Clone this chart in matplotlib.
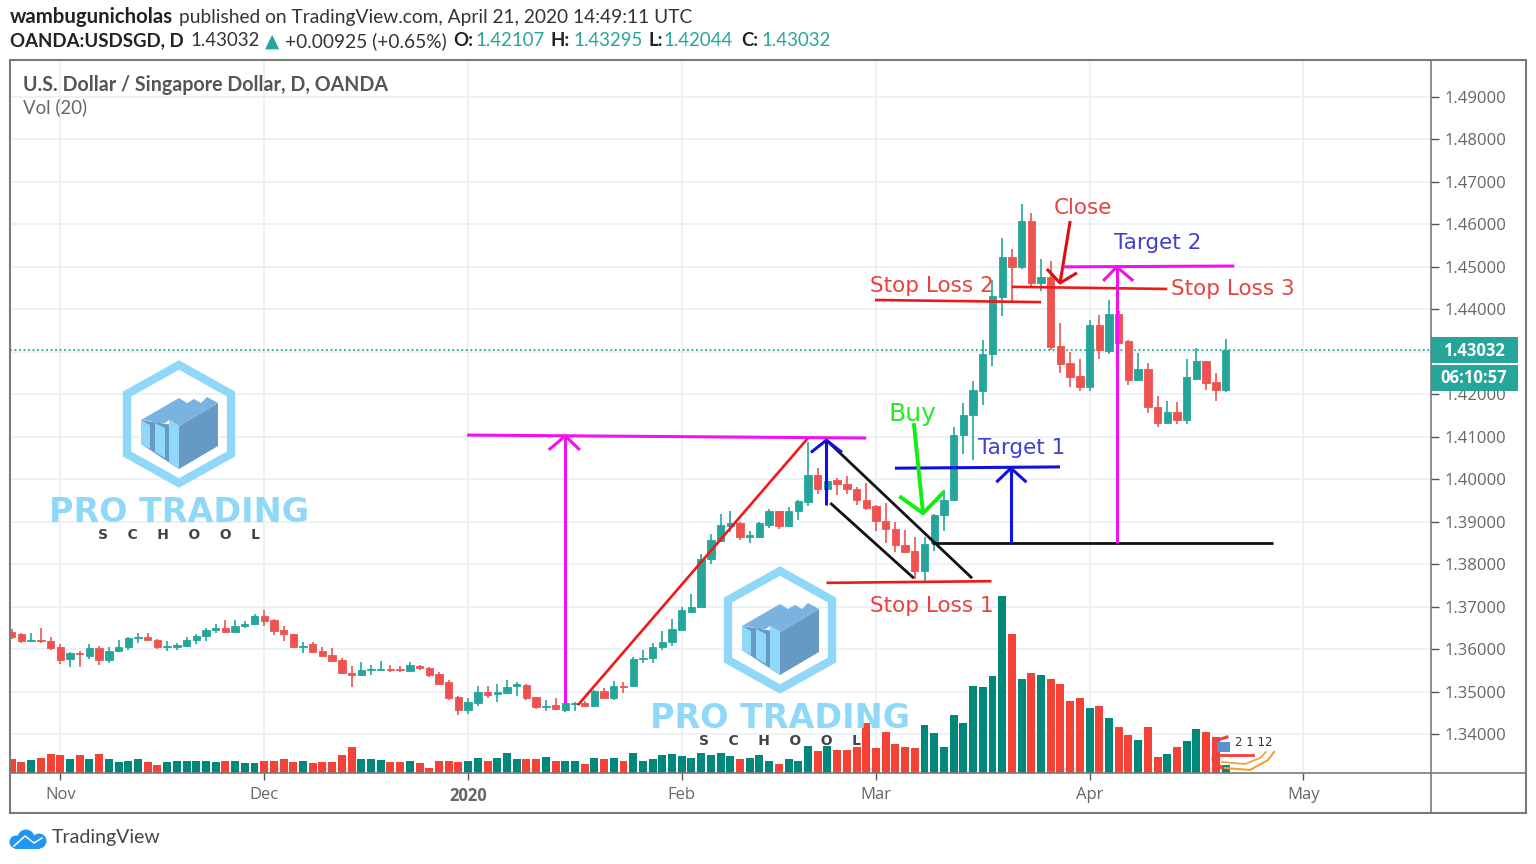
import numpy as np
import matplotlib
matplotlib.use("Agg")
import matplotlib.pyplot as plt
from matplotlib.patches import Polygon, Rectangle, Circle

W, H = 1536, 864
UP = "#26a69a"
DOWN = "#ef5350"
VOL_UP = "#00897b"
VOL_DOWN = "#f44336"
GRID = "#e9eff5"
FRAME = "#7a7a7a"
LOGO = "#8fd8f8"

# daily bars, bar 0 is the first of November 2019
bars = np.arange(-5, 121)
opens = [1.3641, 1.3636, 1.3620, 1.3622, 1.3620,
         1.3606, 1.3576, 1.3592, 1.3584, 1.3602, 1.3574, 1.3596, 1.3604, 1.3625, 1.3629,
         1.3621, 1.3605, 1.3604, 1.3607, 1.3621, 1.3631, 1.3645, 1.3649, 1.3641, 1.3654,
         1.3658, 1.3678, 1.3669, 1.3645, 1.3636, 1.3604, 1.3611, 1.3596, 1.3586, 1.3574,
         1.3543, 1.3538, 1.3550, 1.3550, 1.3554, 1.3554, 1.3548, 1.3560, 1.3556, 1.3541,
         1.3522, 1.3488, 1.3457, 1.3472, 1.3499, 1.3494, 1.3497, 1.3513, 1.3515, 1.3488,
         1.3464, 1.3468, 1.3456, 1.3470, 1.3474, 1.3466, 1.3501, 1.3486, 1.3513, 1.3513,
         1.3576, 1.3578, 1.3604, 1.3617, 1.3646, 1.3688, 1.3700, 1.3813, 1.3855, 1.3891,
         1.3896, 1.3865, 1.3865, 1.3893, 1.3925, 1.3890, 1.3925, 1.3947, 1.4010, 1.3977,
         1.3998, 1.3988, 1.3978, 1.3951, 1.3937, 1.3902, 1.3883, 1.3846, 1.3831, 1.3784,
         1.3849, 1.3915, 1.3951, 1.4103, 1.4151, 1.4208, 1.4294, 1.4430, 1.4524, 1.4499,
         1.4609, 1.4463, 1.4477, 1.4314, 1.4273, 1.4243, 1.4218, 1.4363, 1.4302, 1.4389,
         1.4325, 1.4233, 1.4259, 1.4171, 1.4133, 1.4159, 1.4139, 1.4237, 1.4279, 1.4229,
         1.42107]
closes = [1.3629, 1.3620, 1.3621, 1.3618, 1.3603,
          1.3574, 1.3590, 1.3589, 1.3602, 1.3574, 1.3596, 1.3606, 1.3625, 1.3629, 1.3621,
          1.3604, 1.3607, 1.3610, 1.3621, 1.3632, 1.3645, 1.3649, 1.3641, 1.3654, 1.3658,
          1.3678, 1.3667, 1.3643, 1.3635, 1.3604, 1.3608, 1.3594, 1.3584, 1.3572, 1.3543,
          1.3540, 1.3551, 1.3552, 1.3552, 1.3551, 1.3550, 1.3562, 1.3556, 1.3539, 1.3518,
          1.3486, 1.3457, 1.3475, 1.3498, 1.3492, 1.3498, 1.3510, 1.3517, 1.3485, 1.3463,
          1.3467, 1.3458, 1.3472, 1.3474, 1.3466, 1.3502, 1.3486, 1.3513, 1.3511, 1.3576,
          1.3579, 1.3604, 1.3617, 1.3647, 1.3692, 1.3700, 1.3813, 1.3857, 1.3892, 1.3896,
          1.3865, 1.3868, 1.3897, 1.3926, 1.3890, 1.3926, 1.3949, 1.4010, 1.3977, 1.3996,
          1.3988, 1.3977, 1.3951, 1.3933, 1.3901, 1.3882, 1.3846, 1.3829, 1.3784, 1.3847,
          1.3915, 1.3951, 1.4105, 1.4151, 1.4209, 1.4295, 1.4431, 1.4524, 1.4499, 1.4609,
          1.4463, 1.4477, 1.4312, 1.4271, 1.4241, 1.4218, 1.4363, 1.4304, 1.4390, 1.4321,
          1.4233, 1.4259, 1.4169, 1.4133, 1.4159, 1.4139, 1.4240, 1.4279, 1.4227, 1.4211,
          1.43032]
highs = [1.3647, 1.3637, 1.3639, 1.3649, 1.3628,
         1.3612, 1.3594, 1.3596, 1.3612, 1.3608, 1.3606, 1.3621, 1.3629, 1.3637, 1.3639,
         1.3624, 1.3619, 1.3615, 1.3628, 1.3636, 1.3649, 1.3658, 1.3669, 1.3669, 1.3666,
         1.3682, 1.3692, 1.3671, 1.3655, 1.3636, 1.3616, 1.3616, 1.3606, 1.3603, 1.3580,
         1.3560, 1.3570, 1.3563, 1.3573, 1.3563, 1.3561, 1.3570, 1.3563, 1.3557, 1.3547,
         1.3527, 1.3490, 1.3484, 1.3512, 1.3513, 1.3517, 1.3527, 1.3523, 1.3517, 1.3488,
         1.3481, 1.3485, 1.3476, 1.3476, 1.3478, 1.3503, 1.3509, 1.3525, 1.3523, 1.3582,
         1.3598, 1.3615, 1.3642, 1.3670, 1.3698, 1.3729, 1.3823, 1.3871, 1.3919, 1.3926,
         1.3900, 1.3878, 1.3900, 1.3930, 1.3926, 1.3935, 1.3952, 1.4088, 1.4027, 1.4010,
         1.4004, 1.4007, 1.3982, 1.3990, 1.3939, 1.3945, 1.3900, 1.3880, 1.3864, 1.3864,
         1.3919, 1.3974, 1.4122, 1.4180, 1.4232, 1.4328, 1.4469, 1.4569, 1.4543, 1.4648,
         1.4627, 1.4518, 1.4514, 1.4367, 1.4299, 1.4282, 1.4376, 1.4386, 1.4422, 1.4395,
         1.4328, 1.4298, 1.4273, 1.4196, 1.4185, 1.4182, 1.4282, 1.4308, 1.4279, 1.4249,
         1.43295]
lows = [1.3624, 1.3614, 1.3618, 1.3615, 1.3598,
        1.3565, 1.3559, 1.3557, 1.3576, 1.3562, 1.3568, 1.3594, 1.3598, 1.3615, 1.3618,
        1.3600, 1.3595, 1.3598, 1.3604, 1.3611, 1.3618, 1.3637, 1.3639, 1.3639, 1.3649,
        1.3656, 1.3654, 1.3633, 1.3618, 1.3603, 1.3592, 1.3592, 1.3582, 1.3570, 1.3541,
        1.3511, 1.3537, 1.3539, 1.3548, 1.3545, 1.3545, 1.3548, 1.3551, 1.3535, 1.3516,
        1.3480, 1.3444, 1.3447, 1.3467, 1.3486, 1.3476, 1.3494, 1.3489, 1.3481, 1.3458,
        1.3454, 1.3458, 1.3451, 1.3454, 1.3464, 1.3464, 1.3484, 1.3480, 1.3497, 1.3511,
        1.3568, 1.3568, 1.3599, 1.3607, 1.3645, 1.3686, 1.3698, 1.3800, 1.3853, 1.3876,
        1.3858, 1.3849, 1.3862, 1.3886, 1.3882, 1.3888, 1.3904, 1.3937, 1.3966, 1.3970,
        1.3963, 1.3966, 1.3939, 1.3927, 1.3878, 1.3850, 1.3829, 1.3827, 1.3766, 1.3758,
        1.3831, 1.3879, 1.3949, 1.4060, 1.4045, 1.4175, 1.4267, 1.4384, 1.4418, 1.4496,
        1.4453, 1.4444, 1.4304, 1.4251, 1.4216, 1.4208, 1.4208, 1.4284, 1.4296, 1.4319,
        1.4222, 1.4232, 1.4156, 1.4124, 1.4130, 1.4131, 1.4130, 1.4233, 1.4211, 1.4185,
        1.42044]
# no volume scale is shown, so these are relative heights
volumes = [14, 11, 13, 15, 19,
           18, 14, 18, 14, 19, 14, 11, 12, 14, 11,
           8, 11, 12, 12, 12, 12, 11, 12, 12, 10,
           10, 12, 12, 14, 11, 12, 10, 11, 11, 18,
           26, 14, 14, 13, 11, 11, 12, 10, 5, 12,
           12, 11, 12, 15, 12, 15, 20, 14, 14, 14,
           16, 12, 12, 12, 9, 15, 14, 15, 12, 20,
           12, 14, 18, 19, 17, 15, 20, 18, 20, 17,
           14, 15, 18, 12, 9, 14, 12, 27, 22, 27,
           23, 23, 26, 50, 25, 41, 29, 26, 25, 48,
           40, 26, 58, 50, 87, 86, 97, 177, 139, 94,
           100, 98, 94, 89, 72, 75, 65, 67, 55, 46,
           38, 33, 46, 16, 19, 26, 32, 44, 41, 36,
           8]

price_ticks = [1.49, 1.48, 1.47, 1.46, 1.45, 1.44, 1.43, 1.42, 1.41, 1.40,
               1.39, 1.38, 1.37, 1.36, 1.35, 1.34]
month_bars = [0, 21, 42, 64, 84, 106, 128]
month_labels = ["Nov", "Dec", "2020", "Feb", "Mar", "Apr", "May"]
last_price = 1.43032

# hand drawn lines, as (bar, price) points
red_lines = [[(78.9, 1.3756), (95.9, 1.3760)],
             [(83.9, 1.4422), (101.0, 1.4417)],
             [(98.0, 1.4453), (114.0, 1.4448)],
             [(53.3, 1.3468), (77.0, 1.4097)]]
close_arrow = [[(104.0, 1.4608), (102.96, 1.4462)],
               [(101.6, 1.4495), (102.96, 1.4462), (104.7, 1.4486)]]
magenta_lines = [[(41.9, 1.4104), (83.0, 1.4097)],
                 [(52.0, 1.3473), (52.0, 1.4102)],
                 [(50.3, 1.4069), (52.0, 1.4102), (53.5, 1.4069)],
                 [(108.8, 1.3850), (108.8, 1.4497)],
                 [(107.4, 1.4467), (108.8, 1.4500), (110.5, 1.4467)],
                 [(103.3, 1.4500), (120.9, 1.4502)]]
blue_lines = [[(78.9, 1.3939), (78.9, 1.4092)],
              [(77.3, 1.4063), (78.9, 1.4092), (80.5, 1.4063)],
              [(85.95, 1.4026), (102.95, 1.4029)],
              [(97.9, 1.3850), (97.9, 1.4026)],
              [(96.4, 1.3993), (97.9, 1.4026), (99.5, 1.3993)]]
black_lines = [[(78.9, 1.4092), (93.9, 1.3767)],
               [(79.3, 1.3944), (87.9, 1.3767)],
               [(89.8, 1.3850), (124.9, 1.3850)]]
green_lines = [[(87.9, 1.4132), (88.85, 1.3920)],
               [(86.4, 1.3960), (88.85, 1.3920), (91.0, 1.3970)]]
labels = [("Close", 105.3, 1.4639, "#e8433f", 15.5),
          ("Target 2", 113.05, 1.4557, "#4040d0", 15.5),
          ("Stop Loss 2", 89.8, 1.4456, "#e8433f", 15.5),
          ("Stop Loss 3", 120.8, 1.4449, "#e8433f", 15.5),
          ("Buy", 87.8, 1.4154, "#22ee22", 18),
          ("Target 1", 99.0, 1.4074, "#4040d0", 15.5),
          ("Stop Loss 1", 89.8, 1.3702, "#e8433f", 15.5)]

fig = plt.figure(figsize=(W / 100, H / 100), dpi=100, facecolor="white")
rect = [10 / W, (H - 773) / H, 1421 / W, 713 / H]
xlim = (-5.18, 141.16)
ylim = (1.33083, 1.49871)

# back axes only holds the grid and the tick labels
base = fig.add_axes(rect, zorder=1)
base.set_xlim(xlim)
base.set_ylim(ylim)
base.set_xticks(month_bars)
base.set_xticklabels(month_labels, fontfamily="Open Sans", fontsize=12, color="#666666")
base.get_xticklabels()[2].set_fontweight("bold")
base.yaxis.tick_right()
base.set_yticks(price_ticks)
base.set_yticklabels(["%.5f" % p for p in price_ticks], fontfamily="Open Sans",
                     fontsize=12, color="#666666")
base.tick_params(axis="x", length=5, width=1, color="#555555", pad=5)
base.tick_params(axis="y", length=6, width=1, color="#555555", pad=4)
base.grid(True, color=GRID, linewidth=1.2)
base.set_axisbelow(True)
for s in base.spines.values():
    s.set_visible(False)

vol = fig.add_axes(rect, zorder=2)
vol.set_xlim(xlim)
vol.set_ylim(0, 713)
vol.axis("off")
vol_colors = [VOL_UP if c >= o else VOL_DOWN for o, c in zip(opens, closes)]
vol.bar(bars, volumes, width=0.82, color=vol_colors, linewidth=0)

ax = fig.add_axes(rect, zorder=3)
ax.set_xlim(xlim)
ax.set_ylim(ylim)
ax.axis("off")
ax.axhline(last_price, color=UP, linewidth=1.3, linestyle=(0, (1, 1.5)), zorder=1)
colors = [UP if c >= o else DOWN for o, c in zip(opens, closes)]
ax.vlines(bars, lows, highs, colors=colors, linewidth=1.2, zorder=2)
tops = np.maximum(opens, closes)
bottoms = np.minimum(opens, closes)
ax.bar(bars, tops - bottoms, bottom=bottoms, width=0.76, color=colors, edgecolor=colors,
       linewidth=0.6, zorder=3)


def draw_lines(lines, color, lw):
    for line in lines:
        x, y = zip(*line)
        ax.plot(x, y, color=color, linewidth=lw, zorder=5, solid_capstyle="butt")


draw_lines(black_lines, "#111111", 2.0)
draw_lines(red_lines, "#f01818", 1.9)
draw_lines(close_arrow, "#e00f0f", 2.2)
draw_lines(magenta_lines, "#f010f0", 2.2)
draw_lines(blue_lines, "#1010e0", 2.2)
draw_lines(green_lines, "#10f010", 2.8)
for text, x, y, color, size in labels:
    ax.text(x, y, text, color=color, fontsize=size, ha="center", va="center",
            family="DejaVu Sans", zorder=6)

# page furniture in pixel coordinates
over = fig.add_axes([0, 0, 1, 1], zorder=4)
over.set_xlim(0, W)
over.set_ylim(H, 0)
over.axis("off")

over.add_patch(Rectangle((10, 60), 1516, 753, fill=False, edgecolor=FRAME, linewidth=1.5))
over.plot([10, 1526], [773, 773], color=FRAME, linewidth=1.2)
over.plot([1431, 1431], [60, 813], color=FRAME, linewidth=1.2)
over.add_patch(Rectangle((1431, 337), 87, 26, color=UP, linewidth=0))
over.add_patch(Rectangle((1431, 365), 87, 26, color=UP, linewidth=0))
over.text(1474, 350.5, "1.43032", color="white", fontsize=12, ha="center", va="center",
          family="Open Sans", fontweight="bold")
over.text(1474, 378, "06:10:57", color="white", fontsize=12, ha="center", va="center",
          family="Open Sans", fontweight="bold")

# header pieces: text, left pixel, colour, weight, size
line1 = [("wambugunicholas", 10, "#222222", "bold", 14.7),
         ("published on TradingView.com, April 21, 2020 14:49:11 UTC", 179, "#333333", "normal", 13.8)]
line2 = [("OANDA:USDSGD, D", 10, "#222222", "bold", 13.4),
         ("1.43032", 190, "#333333", "normal", 13.4),
         ("▲", 265, UP, "normal", 13.4),
         ("+0.00925 (+0.65%)", 285, "#333333", "normal", 13.8),
         ("O:", 453, "#222222", "bold", 13.4),
         ("1.42107", 475, UP, "normal", 13.4),
         ("H:", 551, "#222222", "bold", 13.4),
         ("1.43295", 573, UP, "normal", 13.4),
         ("L:", 648, "#222222", "bold", 13.4),
         ("1.42044", 663, UP, "normal", 13.4),
         ("C:", 741, "#222222", "bold", 13.4),
         ("1.43032", 761, UP, "normal", 13.4)]
for pieces, y in ((line1, 17), (line2, 41)):
    for text, x, color, weight, size in pieces:
        fam = ["DejaVu Sans"] if text == "▲" else ["Lato"]
        over.text(x, y, text, color=color, fontsize=size, fontweight=weight,
                  family=fam, ha="left", va="center")
over.text(23, 85, "U.S. Dollar / Singapore Dollar, D, OANDA", color="#555555", fontsize=14.1,
          fontweight="bold", family="Lato", ha="left", va="center")
over.text(23, 107, "Vol (20)", color="#666666", fontsize=13.4, family="Lato",
          ha="left", va="center")


def draw_logo(cx, cy):
    # hexagon outline
    hexagon = [(0, -59), (52, -30), (52, 30), (0, 59), (-52, 30), (-52, -30)]
    over.add_patch(Polygon([(cx + x, cy + y) for x, y in hexagon], closed=True, fill=False,
                           edgecolor=LOGO, linewidth=6, joinstyle="miter"))
    top = [(-38, -4), (0, -26), (8, -21), (15, -25), (22, -21), (28, -27), (39, -21), (0, 2),
           (-10, -4), (-14, -1), (-24, -1), (-28, -3)]
    side = [(0, 2), (39, -21), (39, 22), (0, 45)]
    gap = [(-38, -4), (0, 2), (0, 45), (-38, 20)]
    column1 = [(-38, -4), (-29, 1), (-29, 25), (-38, 20)]
    column2 = [(-24, -1), (-14, 4), (-14, 34), (-24, 28)]
    column3 = [(-10, -4), (0, 2), (0, 45), (-10, 39)]
    for pts, color in ((gap, "#6699c4"), (side, "#6699c4"), (top, "#7ab3e0"), (column1, LOGO),
                       (column2, LOGO), (column3, LOGO)):
        over.add_patch(Polygon([(cx + x, cy + y) for x, y in pts], closed=True, color=color,
                               linewidth=0))
    over.text(cx, cy + 88, "PRO TRADING", color=LOGO, fontsize=24, fontweight="bold",
              family="DejaVu Sans", ha="center", va="center")
    over.text(cx, cy + 111, "S    C    H    O    O    L", color="#444444", fontsize=10, fontweight="bold",
              family="DejaVu Sans", ha="center", va="center")


draw_logo(179, 424)
draw_logo(780, 630)

# sticker in the corner of the last bars
over.plot([1227, 1215, 1213, 1222], [737, 741, 760, 768], color="#f04040", linewidth=2.2)
over.add_patch(Rectangle((1217, 742), 13, 10, color="#5b8fd0", linewidth=0))
over.plot([1218, 1253], [755, 755], color="#f04040", linewidth=2)
over.plot([1225, 1250, 1268, 1274], [768, 770, 760, 752], color="#f0a030", linewidth=1.5)
over.plot([1222, 1245, 1260, 1266], [762, 764, 758, 752], color="#f0a030", linewidth=1.2)
over.text(1254, 742, "2 1 12", color="#333333", fontsize=8.5, family="DejaVu Sans",
          ha="center", va="center")

# TradingView mark
for cx, cy, r in ((16, 842, 6.5), (26, 838, 8.5), (39, 841, 7.5)):
    over.add_patch(Circle((cx, cy), r, color="#2196f3", linewidth=0))
over.add_patch(Rectangle((15, 842), 25, 6.5, color="#2196f3", linewidth=0))
over.plot([14, 25, 34, 42], [846, 836, 843, 838], color="white", linewidth=1.1)
over.text(52, 838, "TradingView", color="#444444", fontsize=14, family="Lato",
          ha="left", va="center")

fig.savefig("out.png", dpi=100)
